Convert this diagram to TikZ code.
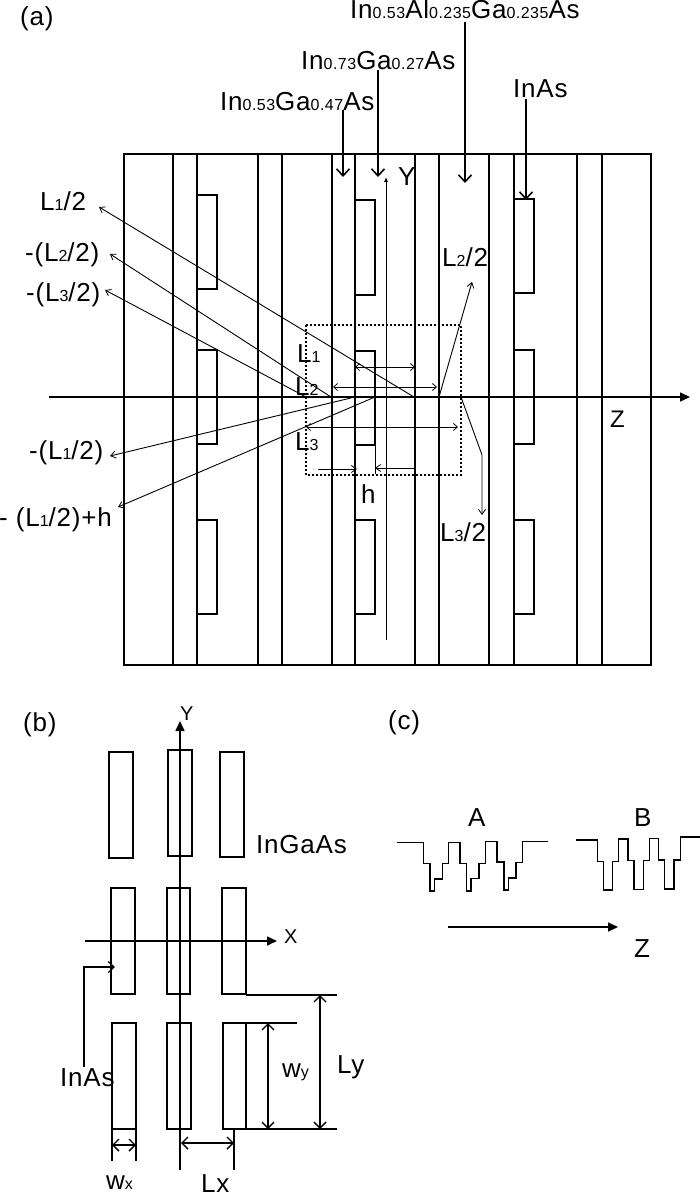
\documentclass[tikz,border=0pt]{standalone}
\usepackage{fontspec}
\setmainfont[LetterSpace=3]{Liberation Sans}
\usetikzlibrary{arrows.meta}
\newcommand{\lo}[1]{{\fontsize{16}{16}\selectfont #1}}
\tikzset{
  x=1pt,y=-1pt,
  lbl/.style={inner sep=0pt,anchor=base west,font=\fontsize{26}{26}\selectfont,text=black},
  lblsm/.style={lbl,font=\fontsize{20}{20}\selectfont},
  wall/.style={line width=1.7pt,black},
  box/.style={line width=1.5pt,black},
  thinln/.style={line width=0.9pt,black},
  thinarr/.style={thinln,-{Straight Barb[length=5pt,width=7pt,line width=0.8pt]}},
  thindim/.style={thinln,{Straight Barb[length=4pt,width=7pt,line width=0.8pt]}-{Straight Barb[length=4pt,width=7pt,line width=0.8pt]}},
  bigarr/.style={line width=1.7pt,black,-{Straight Barb[length=7pt,width=13pt,line width=1.6pt]}},
  bigdim/.style={line width=1.5pt,black,{Straight Barb[length=6pt,width=12pt,line width=1.4pt]}-{Straight Barb[length=6pt,width=12pt,line width=1.4pt]}},
  axis/.style={line width=1.6pt,black,-{Triangle[length=10pt,width=9pt]}},
  dotbox/.style={line width=1.6pt,black,dash pattern=on 2pt off 2pt},
  well/.style={line width=1.5pt,black,line join=miter}
}
\begin{document}
\begin{tikzpicture}
\path[use as bounding box,fill=white] (0,0) rectangle (700,1198);
% ---------- panel (a)
\draw[wall] (124,154) rectangle (651,665);
\foreach \vx in {173,197,258,282,332,355,415,439,489,514,577,602}
  \draw[wall] (\vx,154) -- (\vx,665);
\foreach \rx/\ra/\rb in {197/195/289,197/350/444,197/520/614,
                         355/200/295,355/351/445,355/520/614,
                         514/199/293,514/350/444,514/520/614}
  \draw[box] (\rx,\ra) -- (\rx+20,\ra) -- (\rx+20,\rb) -- (\rx,\rb);
\draw[dotbox] (306,325) rectangle (461,475);

\node[lbl] (pa) at (20,26) {(a)};
\node[lbl] (t1) at (350,19) {In\lo{0.53}Al\lo{0.235}Ga\lo{0.235}As};
\node[lbl] (t2) at (301,70) {In\lo{0.73}Ga\lo{0.27}As};
\node[lbl] (t3) at (220,111) {In\lo{0.53}Ga\lo{0.47}As};
\node[lbl] (t4) at (513,98) {InAs};
\node[lbl] (ay) at (398,186) {Y};
\node[lbl,font=\fontsize{24}{24}\selectfont] (az) at (610,427) {Z};
\node[lbl] (la) at (40,211) {L\lo{1}/2};
\node[lbl] (lb) at (25,261) {-(L\lo{2}/2)};
\node[lbl] (lc) at (26,301) {-(L\lo{3}/2)};
\node[lbl] (ld) at (29,459) {-(L\lo{1}/2)};
\node[lbl] (le) at (-1,526) {- (L\lo{1}/2)+h};
\node[lbl] (lf) at (442,266) {L\lo{2}/2};
\node[lbl] (lg) at (440,541) {L\lo{3}/2};
\node[lbl] (d1) at (297,362) {L\lo{1}};
\node[lbl] (d2) at (295,395) {L\lo{2}};
\node[lbl] (d3) at (295,450) {L\lo{3}};
\node[lbl] (dh) at (361,503) {h};

\coordinate (zs) at (49,397); \coordinate (ze) at (690,397);
\draw[axis] (zs) -- (ze);
\coordinate (ys) at (386,640); \coordinate (ye) at (386,177);
\draw[thinln,-{Latex[length=5pt,width=4pt]}] (ys) -- (ye);

\coordinate (b1a) at (343,110); \coordinate (b1b) at (343,177);
\coordinate (b2a) at (378,70);  \coordinate (b2b) at (378,177);
\coordinate (b3a) at (465,22);  \coordinate (b3b) at (465,183);
\coordinate (b4a) at (526,99);  \coordinate (b4b) at (526,200);
\draw[bigarr] (b1a) -- (b1b);
\draw[bigarr] (b2a) -- (b2b);
\draw[bigarr] (b3a) -- (b3b);
\draw[bigarr] (b4a) -- (b4b);

\coordinate (o1) at (414,397);  \coordinate (a1) at (99,207);
\coordinate (o2) at (331,397);  \coordinate (a2) at (110,254);
\coordinate (o3) at (306,397);  \coordinate (a3) at (105,290);
\coordinate (o4) at (355,397);  \coordinate (a4) at (110,456);
\coordinate (o5) at (375,397);  \coordinate (a5) at (118,507);
\coordinate (o6) at (439,397);  \coordinate (a6) at (472,282);
\coordinate (o7) at (461,397);  \coordinate (m7) at (482,455); \coordinate (a7) at (482,515);
\draw[thinarr] (o1) -- (a1);
\draw[thinarr] (o2) -- (a2);
\draw[thinarr] (o3) -- (a3);
\draw[thinarr] (o4) -- (a4);
\draw[thinarr] (o5) -- (a5);
\draw[thinarr] (o6) -- (a6);
\draw[thinarr] (o7) -- (m7) -- (a7);

\coordinate (e1a) at (355,367); \coordinate (e1b) at (415,367);
\coordinate (e2a) at (333,387); \coordinate (e2b) at (437,387);
\coordinate (e3a) at (306,427); \coordinate (e3b) at (458,427);
\draw[thindim] (e1a) -- (e1b);
\draw[thindim] (e2a) -- (e2b);
\draw[thindim] (e3a) -- (e3b);
\coordinate (h1a) at (318,469); \coordinate (h1b) at (357,469);
\coordinate (h2a) at (415,468); \coordinate (h2b) at (375,468);
\draw[thinarr] (h1a) -- (h1b);
\draw[thinarr] (h2a) -- (h2b);
\coordinate (h3a) at (375,445); \coordinate (h3b) at (375,474);
\draw[thinln] (h3a) -- (h3b);

% ---------- panel (b)
\foreach \qa/\qb/\qc/\qd in {109/752/133/858,168/750/192/856,220/752/244/857,
                             111/888/135/994,167/888/190/994,222/888/246/994,
                             112/1023/136/1129,167/1023/191/1129,223/1023/246/1129}
  \draw[box] (\qa,\qb) rectangle (\qc,\qd);
\node[lbl] (pb) at (23,731) {(b)};
\node[lblsm] (by) at (180,720) {Y};
\node[lblsm] (bx) at (284,943) {X};
\node[lbl] (bi) at (60,1086) {InAs};
\node[lbl] (bg) at (256,853) {InGaAs};
\node[lbl] (bw) at (282,1077) {w\lo{y}};
\node[lbl] (bl) at (337,1073) {Ly};
\node[lbl] (bv) at (106,1189) {w\lo{x}};
\node[lbl] (bm) at (201,1192) {Lx};

\coordinate (yb) at (180,1170); \coordinate (yt) at (180,721);
\draw[axis] (yb) -- (yt);
\coordinate (xl) at (85,941); \coordinate (xr) at (277,941);
\draw[axis] (xl) -- (xr);
\coordinate (ia) at (84,1067); \coordinate (ib) at (84,967); \coordinate (ic) at (115,967);
\draw[line width=1.2pt,black,-{Straight Barb[length=6pt,width=11pt,line width=1.1pt]}] (ia) -- (ib) -- (ic);

\coordinate (l1a) at (246,995);  \coordinate (l1b) at (337,995);
\coordinate (l2a) at (246,1129); \coordinate (l2b) at (337,1129);
\coordinate (l3a) at (246,1023); \coordinate (l3b) at (297,1023);
\draw[box] (l1a) -- (l1b);
\draw[box] (l2a) -- (l2b);
\draw[box] (l3a) -- (l3b);
\coordinate (wa) at (268,1023); \coordinate (wb) at (268,1129);
\coordinate (la1) at (320,995); \coordinate (la2) at (320,1129);
\draw[bigdim] (wa) -- (wb);
\draw[bigdim] (la1) -- (la2);
\coordinate (x1a) at (112,1129); \coordinate (x1b) at (112,1161);
\coordinate (x2a) at (136,1129); \coordinate (x2b) at (136,1161);
\coordinate (x3a) at (234,1129); \coordinate (x3b) at (234,1170);
\draw[box] (x1a) -- (x1b);
\draw[box] (x2a) -- (x2b);
\draw[box] (x3a) -- (x3b);
\coordinate (w1) at (112,1145); \coordinate (w2) at (136,1145);
\coordinate (k1) at (181,1143); \coordinate (k2) at (234,1143);
\draw[bigdim] (w1) -- (w2);
\draw[bigdim] (k1) -- (k2);

% ---------- panel (c)
\node[lbl] (pc) at (388,729) {(c)};
\node[lbl] (ca) at (468,826) {A};
\node[lbl] (cb) at (634,826) {B};
\node[lbl] (cz) at (634,957) {Z};
\begin{scope}[shift={(380,700)},x=0.3333pt,y=-0.3333pt]
\draw[well] (50,427)--(130,427)--(130,490)--(150,490)--(150,573)--(163,573)--(163,537)--(187,537)--(187,490)--(205,490)--(205,427)--(240,427)--(240,490)--(260,490)--(260,573)--(273,573)--(273,535)--(297,535)--(297,490)--(317,490)--(317,424)--(351,424)--(351,486)--(372,486)--(372,570)--(385,570)--(385,534)--(408,534)--(408,488)--(428,488)--(428,424)--(503,424);
\draw[well] (588,420)--(652,420)--(652,485)--(670,485)--(670,570)--(698,570)--(698,485)--(716,485)--(716,417)--(744,417)--(744,482)--(762,482)--(762,569)--(790,569)--(790,482)--(808,482)--(808,415)--(836,415)--(836,480)--(854,480)--(854,567)--(882,567)--(882,480)--(901,480)--(901,411)--(960,411);
\end{scope}
\coordinate (cl) at (448,927); \coordinate (cr) at (618,927);
\draw[axis] (cl) -- (cr);
\end{tikzpicture}
\end{document}
